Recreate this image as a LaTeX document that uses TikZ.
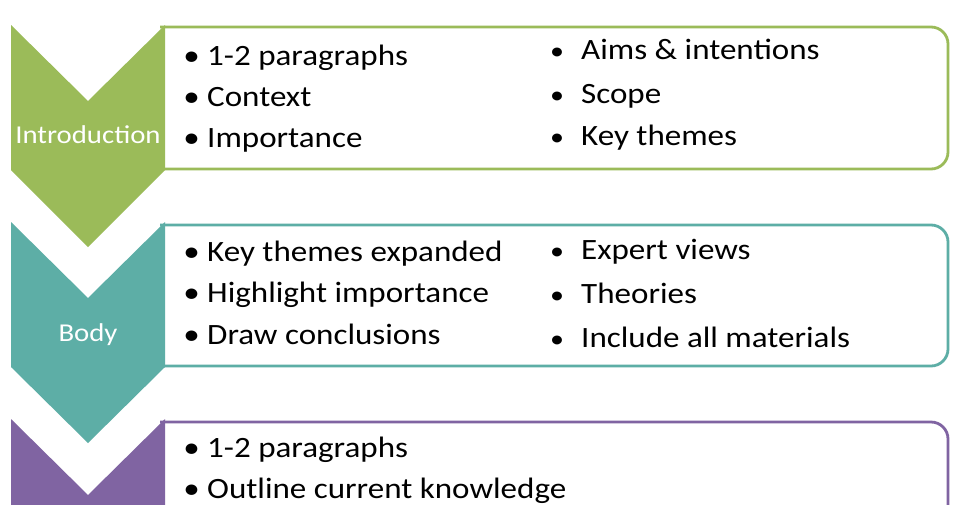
\documentclass[tikz,border=0pt]{standalone}
\usepackage{fontspec}
\setmainfont{Carlito}[FakeStretch=1.12]
\definecolor{cgreen}{HTML}{9BBB59}
\definecolor{cteal}{HTML}{5DAEA6}
\definecolor{cpurple}{HTML}{8064A2}
\newcommand{\lbul}{\llap{\makebox[0pt]{•}\hspace{15.5pt}}}
\newcommand{\rbul}{\llap{\makebox[0pt]{\fontsize{25}{30}\selectfont •}\hspace{24pt}}}
\begin{document}
\begin{tikzpicture}[x=1pt,y=-1pt,
  item/.style={anchor=base west, inner sep=0pt, font=\fontsize{29.5}{36}\selectfont, text=black},
  lbl/.style={anchor=base, inner sep=0pt, font=\fontsize{25.7}{31}\selectfont, text=white},
  panel/.style={draw=#1, line width=2.8pt, rounded corners=17pt},
  chev/.style={fill=#1}]
\useasboundingbox (0,0) rectangle (960,504);
\clip (0,0) rectangle (960,504);
\fill[white] (0,0) rectangle (960,504);
% panels (left side hidden by the chevrons)
\draw[panel=cgreen] (160,27) -- (948,27) -- (948,169) -- (160,169);
\draw[panel=cteal] (160,225) -- (948,225) -- (948,366) -- (160,366);
\draw[panel=cpurple] (160,422) -- (948,422) -- (948,620) -- (160,620);
% chevrons
\fill[chev=cgreen] (11,25) -- (88,101) -- (165,25) -- (165,170) -- (88,247) -- (11,170) -- cycle;
\fill[chev=cteal] (11,222) -- (88,298) -- (165,222) -- (165,367) -- (88,443) -- (11,367) -- cycle;
\fill[chev=cpurple] (11,419) -- (88,495) -- (165,419) -- (165,564) -- (88,640) -- (11,564) -- cycle;
% labels
\node[lbl] (intro) at (88,143) {Introduction};
\node[lbl] (body) at (88,341) {Body};
% section 1
\node[item] (a1) at (207,65) {\lbul 1-2 paragraphs};
\node[item] (a2) at (207,106) {\lbul Context};
\node[item] (a3) at (207,147) {\lbul Importance};
\node[item] (b1) at (581,59) {\rbul Aims \& intentions};
\node[item] (b2) at (581,103) {\rbul Scope};
\node[item] (b3) at (581,145) {\rbul Key themes};
% section 2
\node[item] (c1) at (207,261) {\lbul Key themes expanded};
\node[item] (c2) at (207,302) {\lbul Highlight importance};
\node[item] (c3) at (207,344) {\lbul Draw conclusions};
\node[item] (d1) at (581,259) {\rbul Expert views};
\node[item] (d2) at (581,303) {\rbul Theories};
\node[item] (d3) at (581,347) {\rbul Include all materials};
% section 3
\node[item] (e1) at (207,457) {\lbul 1-2 paragraphs};
\node[item] (e2) at (207,498) {\lbul Outline current knowledge};
\end{tikzpicture}
\end{document}
